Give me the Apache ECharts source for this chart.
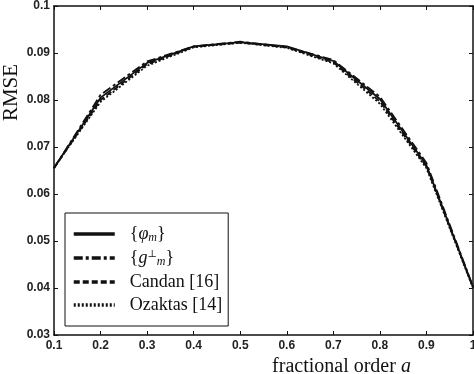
<!DOCTYPE html>
<html><head><meta charset="utf-8">
<script src="https://cdn.jsdelivr.net/npm/echarts@6/dist/echarts.min.js"></script>
<style>html,body{margin:0;padding:0;background:#fff}#c{width:474px;height:374px}</style>
</head><body><div id="c"></div>
<script>
var xValues = [0.1, 0.2, 0.3, 0.4, 0.5, 0.6, 0.7, 0.8, 0.9, 1.0];
var phiM    = [0.0656, 0.0805, 0.0879, 0.0914, 0.0923, 0.0914, 0.0883, 0.0802, 0.0661, 0.0402];
var gPerpM  = [0.0655, 0.0811, 0.0882, 0.0914, 0.0924, 0.0913, 0.0885, 0.0807, 0.0666, 0.0403];
var candan  = [0.0655, 0.0800, 0.0876, 0.0913, 0.0922, 0.0912, 0.0880, 0.0797, 0.0658, 0.0401];
var ozaktas = [0.0656, 0.0796, 0.0873, 0.0912, 0.0922, 0.0911, 0.0878, 0.0792, 0.0655, 0.0400];
var seriesNames = ['phi', 'g', 'Candan [16]', 'Ozaktas [14]'];

function pairs(ys) { return xValues.map(function (x, i) { return [x, ys[i]]; }); }
var serif = '"Liberation Serif", "DejaVu Serif", serif';
var sans = '"Liberation Sans", Arial, sans-serif';
var ink = '#111';

function mkSeries(name, ys, type) {
  return {
    name: name, type: 'line', data: pairs(ys), symbol: 'none', showSymbol: false,
    xAxisIndex: 0, yAxisIndex: 0,
    lineStyle: { color: ink, width: 1.8, type: type },
    itemStyle: { color: ink },
    emphasis: { disabled: true }, animation: false
  };
}

var chart = echarts.init(document.getElementById('c'), null, { renderer: 'canvas' });
var axisCommon = {
  axisLine: { show: true, lineStyle: { color: ink, width: 1.5 } },
  axisTick: { show: true, inside: true, length: 4, lineStyle: { color: ink, width: 1 } },
  splitLine: { show: false }
};
chart.setOption({
  backgroundColor: '#fff',
  animation: false,
  grid: { left: 54, right: 1, top: 6, bottom: 39, containLabel: false, outerBoundsMode: 'none' },
  legend: {
    orient: 'vertical', left: 65, top: 213,
    padding: [12, 6, 12, 7],
    itemWidth: 41, itemHeight: 14, itemGap: 5,
    borderColor: ink, borderWidth: 1, backgroundColor: '#fff',
    itemStyle: { opacity: 0, borderWidth: 0 },
    lineStyle: { width: 3.5 },
    data: seriesNames,
    formatter: function (n) {
      if (n === 'phi') return '{{i|φ}{s|m}}';
      if (n === 'g') return '{{i|g}{p|⊥}{s|m}}';
      return n;
    },
    textStyle: {
      fontFamily: serif, fontSize: 18, color: ink, padding: [0, 0, 0, 10],
      rich: {
        i: { fontFamily: serif, fontSize: 18, fontStyle: 'italic', color: ink },
        s: { fontFamily: serif, fontSize: 12, fontStyle: 'italic', color: ink, padding: [8, 0, 0, 0] },
        p: { fontFamily: serif, fontSize: 10, color: ink, padding: [0, 0, 8, 0] }
      }
    }
  },
  xAxis: [
    Object.assign({
      type: 'value', min: 0.1, max: 1, interval: 0.1, position: 'bottom',
      axisLabel: { show: true, margin: 5, fontFamily: sans, fontSize: 12, color: '#222', fontWeight: 'bold',
        formatter: function (v) { return String(+v.toFixed(1)); } },
      name: 'fractional order {i|a}', nameLocation: 'middle', nameGap: 22, nameMoveOverlap: false,
      nameTextStyle: { fontFamily: serif, fontSize: 20, color: ink, padding: [0, 0, 0, 156],
        rich: { i: { fontFamily: serif, fontSize: 20, fontStyle: 'italic', color: ink } } }
    }, axisCommon),
    Object.assign({
      type: 'value', min: 0.1, max: 1, interval: 0.1, position: 'top',
      axisLabel: { show: false }
    }, axisCommon)
  ],
  yAxis: [
    Object.assign({
      type: 'value', min: 0.03, max: 0.1, interval: 0.01, position: 'left',
      axisLabel: { show: true, margin: 4, fontFamily: sans, fontSize: 12, color: '#222', fontWeight: 'bold',
        formatter: function (v) { return String(+v.toFixed(2)); } },
      name: 'RMSE', nameLocation: 'middle', nameGap: 32, nameRotate: 90, nameMoveOverlap: false,
      nameTextStyle: { fontFamily: serif, fontSize: 21, color: ink, padding: [0, 0, 0, 156] }
    }, axisCommon),
    Object.assign({
      type: 'value', min: 0.03, max: 0.1, interval: 0.01, position: 'right',
      axisLabel: { show: false }
    }, axisCommon)
  ],
  series: [
    mkSeries('phi', phiM, 'solid'),
    mkSeries('g', gPerpM, [9, 3, 3, 3]),
    mkSeries('Candan [16]', candan, [6, 3]),
    mkSeries('Ozaktas [14]', ozaktas, [2, 2])
  ]
});
</script></body></html>
